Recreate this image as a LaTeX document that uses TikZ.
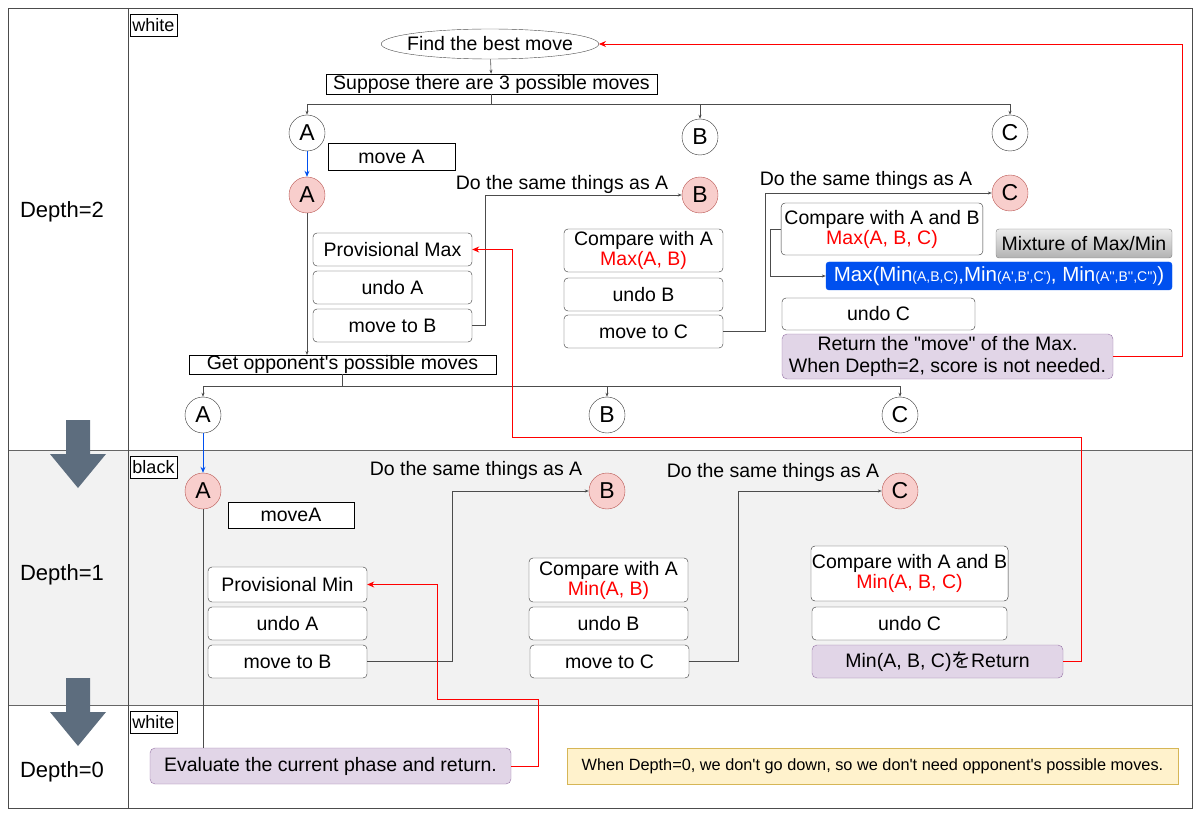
\documentclass[tikz,border=0pt]{standalone}
\usepackage{fontspec}
\setmainfont{Liberation Sans}[Ligatures=TeXOff]
\newfontfamily\cjk{Noto Sans CJK JP}
\usetikzlibrary{shapes.geometric,arrows.meta,shadings}
\definecolor{pinkf}{HTML}{F8CECC}\definecolor{pinkd}{HTML}{B85450}
\definecolor{purf}{HTML}{E1D5E7}\definecolor{purd}{HTML}{9673A6}
\definecolor{yelf}{HTML}{FFF2CC}\definecolor{yeld}{HTML}{D6B656}
\definecolor{blu}{HTML}{0050EF}\definecolor{slate}{HTML}{5D6D7E}
\begin{document}
\begin{tikzpicture}[x=1pt,y=-1pt,
  every node/.style={font=\fontsize{19.5}{21}\selectfont},
  circ/.style={circle,draw=black!80,minimum size=36pt,inner sep=0pt,font=\fontsize{23}{25}\selectfont},
  pcirc/.style={circ,fill=pinkf,draw=pinkd},
  rb/.style={rounded corners=4pt,draw=black!80,fill=white},
  pur/.style={rounded corners=5pt,draw=purd,fill=purf},
  ln/.style={draw=black!70,line width=0.6pt},
  arr/.style={ln,-{Stealth[length=4pt,width=3pt]}},
  rarr/.style={draw=red,line width=0.8pt,-{Stealth[length=7pt,width=6pt]}},
  barr/.style={draw=blu,line width=1pt,-{Stealth[length=6pt,width=5pt]}},
  two/.style={align=center,font=\fontsize{19.5}{20}\selectfont}]
\useasboundingbox (0,0) rectangle (1200,813);
\fill[black!5] (8,450) rectangle (1192,705);
\draw[black!60] (8,450)--(1192,450) (8,705)--(1192,705);
\draw[black!70,line width=0.8pt] (8,8) rectangle (1192,808) (128,8)--(128,808);
\node at (62,212) {\fontsize{22}{24}\selectfont Depth=2};
\node at (62,575) {\fontsize{22}{24}\selectfont Depth=1};
\node at (62,772) {\fontsize{22}{24}\selectfont Depth=0};
\foreach \y in {420,678}{\fill[slate] (66,\y)--(90,\y)--(90,\y+34)--(106,\y+34)--(78,\y+68)--(50,\y+34)--(66,\y+34)--cycle;}
\foreach \y/\t in {14/white,456/black,711/white}{\node[draw,inner sep=0pt,minimum width=47pt,minimum height=22pt,fill=white,font=\fontsize{18}{20}\selectfont] at (153.5,\y+11) {\t};}
% top
\node[ellipse,draw=black!70,minimum width=210pt,minimum height=30pt,inner xsep=-6pt,inner ysep=0pt] (find) at (490,44) {Find the best move};
\node[draw,minimum width=331pt,minimum height=20pt,inner sep=0pt] (sup) at (491.5,84) {Suppose there are 3 possible moves};
\draw[arr] (find)--(sup);
\node[circ] (A2) at (307,133) {A};
\node[circ] (B2) at (700,137) {B};
\node[circ] (C2) at (1010,133) {C};
\coordinate (s1) at (491,104);
\draw[ln] (sup.south-|s1)--(s1);
\draw[arr] (s1)-|(A2.north);
\draw[arr] (s1)-|(B2.north);
\draw[arr] (s1)-|(C2.north);
\node[draw,minimum width=127pt,minimum height=27pt] (mA) at (391.5,156.5) {move A};
\node[pcirc] (pA2) at (307,195) {A};
\node[pcirc] (pB2) at (700,195) {B};
\node[pcirc] (pC2) at (1010,193) {C};
\draw[barr] (A2)--(pA2);
\node at (562,184) {Do the same things as A};
\node at (866,180) {Do the same things as A};
\node[rb,minimum width=159pt,minimum height=33pt] (pmax) at (392.5,249.5) {Provisional Max};
\node[rb,minimum width=159pt,minimum height=33pt] (uA2) at (392.5,287.5) {undo A};
\node[rb,minimum width=159pt,minimum height=33pt] (mB2) at (392.5,325.5) {move to B};
\draw[arr] (mB2.east)--++(13,0)|-(pB2.west);
\node[rb,two,minimum width=159pt,minimum height=43pt,inner sep=1pt] (cA2) at (643.5,250.5) {Compare with A\\\textcolor{red}{Max(A, B)}};
\node[rb,minimum width=159pt,minimum height=33pt] (uB2) at (643.5,294.5) {undo B};
\node[rb,minimum width=159pt,minimum height=33pt] (mC2) at (643.5,331.5) {move to C};
\draw[arr] (mC2.east)--++(42,0)|-(pC2.west);
\node[rb,two,minimum width=200pt,minimum height=52pt] (cAB2) at (882,229) {Compare with A and B\\\textcolor{red}{Max(A, B, C)}};
\node[rounded corners=3pt,draw=black!50,top color=black!8,bottom color=black!30,minimum width=176pt,minimum height=29pt,inner sep=0pt] (mix) at (1084,243.5) {Mixture of Max/Min};
\node[rounded corners=3pt,fill=blu,draw=blu,text=white,minimum width=346pt,minimum height=28pt,inner sep=0pt] (blue) at (999,276) {\fontsize{20.5}{22}\selectfont Max(Min{\fontsize{14}{15}\selectfont(A,B,C)},Min{\fontsize{14}{15}\selectfont(A',B',C')}, Min{\fontsize{14}{15}\selectfont(A'',B'',C'')})};
\draw[arr] (cAB2.west)--++(-11,0)|-(blue.west);
\node[rb,minimum width=193pt,minimum height=32pt] (uC2) at (878.5,314) {undo C};
\node[pur,minimum width=331pt,minimum height=45pt,align=center,font=\fontsize{19.5}{22}\selectfont,inner sep=0pt] (ret2) at (947.5,356.5) {Return the "move" of the Max.\\When Depth=2, score is not needed.};
\coordinate (r1) at (1182,44);
\draw[rarr] (ret2.east)-|(r1)--(find.east);
\draw[arr] (pA2.south)--(307,355);
\node[draw,minimum width=307pt,minimum height=19pt,inner sep=0pt] (opp) at (342.5,364.5) {Get opponent's possible moves};
\node[circ] (A1) at (203,415) {A};
\node[circ] (B1) at (607,415) {B};
\node[circ] (C1) at (900,415) {C};
\coordinate (s2) at (342,386);
\draw[ln] (opp.south-|s2)--(s2);
\draw[arr] (s2)-|(A1.north);
\draw[arr] (s2)-|(B1.north);
\draw[arr] (s2)-|(C1.north);
% depth1
\node[pcirc] (pA1) at (203,491) {A};
\node[pcirc] (pB1) at (607,491) {B};
\node[pcirc] (pC1) at (900,491) {C};
\draw[barr] (A1)--(pA1);
\node at (476,470) {Do the same things as A};
\node at (773,472) {Do the same things as A};
\node[draw,fill=white,minimum width=126pt,minimum height=26pt] (mA1) at (291,515) {moveA};
\node[rb,minimum width=159pt,minimum height=35pt] (pmin) at (287.5,584.5) {Provisional Min};
\node[rb,minimum width=159pt,minimum height=33pt] (uA1) at (287.5,623.5) {undo A};
\node[rb,minimum width=159pt,minimum height=33pt] (mB1) at (287.5,661.5) {move to B};
\draw[arr] (mB1.east)--++(85,0)|-(pB1.west);
\node[rb,two,minimum width=159pt,minimum height=44pt,inner sep=1pt] (cA1) at (608.5,580) {Compare with A\\\textcolor{red}{Min(A, B)}};
\node[rb,minimum width=159pt,minimum height=33pt] (uB1) at (608.5,623.5) {undo B};
\node[rb,minimum width=159pt,minimum height=33pt] (mC1) at (609.5,661.5) {move to C};
\draw[arr] (mC1.east)--++(49,0)|-(pC1.west);
\node[rb,two,minimum width=195pt,minimum height=55pt,inner sep=1pt] (cAB1) at (909.5,573.5) {Compare with A and B\\\textcolor{red}{Min(A, B, C)}};
\node[rb,minimum width=195pt,minimum height=33pt] (uC1) at (909.5,623.5) {undo C};
\node[pur,minimum width=251pt,minimum height=33pt] (ret1) at (937.5,661.5) {Min(A, B, C){\cjk を}Return};
\coordinate (q1) at (1081,437);\coordinate (q2) at (512,437);
\draw[rarr] (ret1.east)-|(q1)--(q2)|-(pmax.east);
% depth0
\node[pur,minimum width=361pt,minimum height=36pt] (eval) at (330.5,766) {Evaluate the current phase and return.};
\draw[ln] (pA1.south)--(eval.north-|pA1);
\coordinate (e1) at (538,699);\coordinate (e2) at (437,699);
\draw[rarr] (eval.east)-|(e1)--(e2)|-(pmin.east);
\node[draw=yeld,fill=yelf,minimum width=611pt,minimum height=36pt,inner sep=0pt,font=\fontsize{16.3}{18}\selectfont] (note) at (872.5,766) {When Depth=0, we don't go down, so we don't need opponent's possible moves.};
\end{tikzpicture}
\end{document}
